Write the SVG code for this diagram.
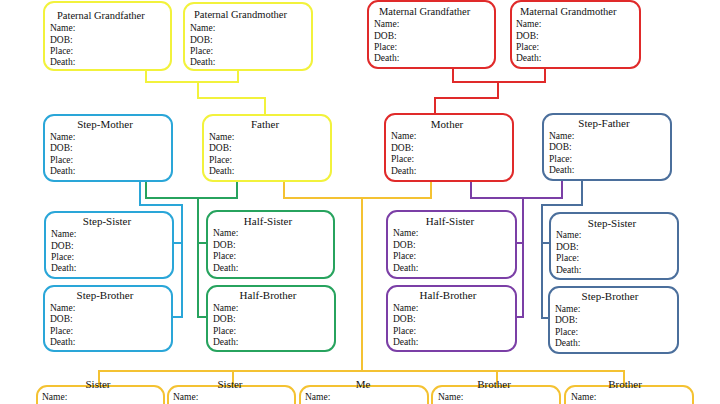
<svg xmlns="http://www.w3.org/2000/svg" width="720" height="404" viewBox="0 0 720 404">
<style>
rect{fill:#fff;stroke-width:2}
text{font-family:"Liberation Serif",serif;font-size:9.5px;fill:#111}
.t{font-size:11px;text-anchor:middle}
.c path{fill:none;stroke-width:2}
.y{stroke:#f2f23c}.r{stroke:#e02a2a}.b{stroke:#2aa6d8}.g{stroke:#27a35e}.p{stroke:#7b3fa6}.s{stroke:#4b6f9c}.o{stroke:#f4c232}
</style>
<rect width="720" height="404" fill="#fff" stroke="none"/>
<g class="c">
<path class="y" d="M146 70V82H238V70M198 82V98H265V115"/>
<path class="r" d="M453 68V82H545V68M498 82V98H435V113"/>
<path class="b" d="M140 181V205H182V317H172M182 243H172"/>
<path class="g" d="M146 181V198H237V181M198 198V317H207M198 243H207"/>
<path class="o" d="M284 181V198H431V181M362 198V371M99 386V371H624V386M233 371V386M497 371V386"/>
<path class="p" d="M471 181V198H562V180M523 198V317H516M523 243H516"/>
<path class="s" d="M582 180V205H542V318H549M542 243H550"/>
</g>
<g id="pgf"><rect class="y" x="44" y="2" width="127" height="68" rx="10"/><text x="57" y="19" style="font-size:10.5px">Paternal Grandfather</text><text x="50" y="31">Name:</text><text x="50" y="43">DOB:</text><text x="50" y="54">Place:</text><text x="50" y="65">Death:</text></g>
<g id="pgm"><rect class="y" x="184" y="3" width="128" height="67" rx="10"/><text x="194" y="18" style="font-size:10.5px">Paternal Grandmother</text><text x="190" y="31">Name:</text><text x="190" y="43">DOB:</text><text x="190" y="54">Place:</text><text x="190" y="65">Death:</text></g>
<g id="mgf"><rect class="r" x="368" y="1" width="127" height="67" rx="10"/><text x="379" y="15" style="font-size:10.5px">Maternal Grandfather</text><text x="374" y="27">Name:</text><text x="374" y="39">DOB:</text><text x="374" y="50">Place:</text><text x="374" y="61">Death:</text></g>
<g id="mgm"><rect class="r" x="511" y="1" width="129" height="67" rx="10"/><text x="520" y="15" style="font-size:10.5px">Maternal Grandmother</text><text x="516" y="27">Name:</text><text x="516" y="39">DOB:</text><text x="516" y="50">Place:</text><text x="516" y="61">Death:</text></g>
<g id="stepmother"><rect class="b" x="44" y="115" width="128" height="66" rx="10"/><text class="t" x="105" y="128">Step-Mother</text><text x="50" y="140">Name:</text><text x="50" y="151">DOB:</text><text x="50" y="163">Place:</text><text x="50" y="174">Death:</text></g>
<g id="father"><rect class="y" x="203" y="115" width="128" height="66" rx="10"/><text class="t" x="265" y="128">Father</text><text x="209" y="140">Name:</text><text x="209" y="151">DOB:</text><text x="209" y="163">Place:</text><text x="209" y="174">Death:</text></g>
<g id="mother"><rect class="r" x="385" y="114" width="128" height="67" rx="10"/><text class="t" x="447" y="128">Mother</text><text x="391" y="139">Name:</text><text x="391" y="151">DOB:</text><text x="391" y="162">Place:</text><text x="391" y="174">Death:</text></g>
<g id="stepfather"><rect class="s" x="543" y="114" width="128" height="66" rx="10"/><text class="t" x="604" y="127">Step-Father</text><text x="549" y="139">Name:</text><text x="549" y="150">DOB:</text><text x="549" y="162">Place:</text><text x="549" y="173">Death:</text></g>
<g id="stepsister1"><rect class="b" x="45" y="212" width="128" height="66" rx="10"/><text class="t" x="107" y="225">Step-Sister</text><text x="51" y="237">Name:</text><text x="51" y="249">DOB:</text><text x="51" y="260">Place:</text><text x="51" y="271">Death:</text></g>
<g id="stepbrother1"><rect class="b" x="44" y="286" width="128" height="65" rx="10"/><text class="t" x="105" y="299">Step-Brother</text><text x="50" y="311">Name:</text><text x="50" y="322">DOB:</text><text x="50" y="334">Place:</text><text x="50" y="345">Death:</text></g>
<g id="halfsister1"><rect class="g" x="207" y="211" width="127" height="67" rx="10"/><text class="t" x="268" y="225">Half-Sister</text><text x="213" y="236">Name:</text><text x="213" y="248">DOB:</text><text x="213" y="259">Place:</text><text x="213" y="271">Death:</text></g>
<g id="halfbrother1"><rect class="g" x="207" y="286" width="128" height="65" rx="10"/><text class="t" x="268" y="299">Half-Brother</text><text x="213" y="311">Name:</text><text x="213" y="322">DOB:</text><text x="213" y="334">Place:</text><text x="213" y="345">Death:</text></g>
<g id="halfsister2"><rect class="p" x="387" y="211" width="129" height="67" rx="10"/><text class="t" x="450" y="225">Half-Sister</text><text x="393" y="236">Name:</text><text x="393" y="248">DOB:</text><text x="393" y="259">Place:</text><text x="393" y="271">Death:</text></g>
<g id="halfbrother2"><rect class="p" x="387" y="286" width="129" height="65" rx="10"/><text class="t" x="448" y="299">Half-Brother</text><text x="393" y="311">Name:</text><text x="393" y="322">DOB:</text><text x="393" y="334">Place:</text><text x="393" y="345">Death:</text></g>
<g id="stepsister2"><rect class="s" x="550" y="213" width="128" height="66" rx="10"/><text class="t" x="612" y="227">Step-Sister</text><text x="556" y="238">Name:</text><text x="556" y="250">DOB:</text><text x="556" y="261">Place:</text><text x="556" y="273">Death:</text></g>
<g id="stepbrother2"><rect class="s" x="549" y="287" width="129" height="66" rx="10"/><text class="t" x="610" y="300">Step-Brother</text><text x="555" y="312">Name:</text><text x="555" y="323">DOB:</text><text x="555" y="335">Place:</text><text x="555" y="346">Death:</text></g>
<g id="sister1"><rect class="o" x="37" y="386" width="127" height="40" rx="10"/><text class="t" x="98" y="388">Sister</text><text x="42" y="400">Name:</text></g>
<g id="sister2"><rect class="o" x="168" y="386" width="127" height="40" rx="10"/><text class="t" x="230" y="388">Sister</text><text x="173" y="400">Name:</text></g>
<g id="me"><rect class="o" x="300" y="386" width="128" height="40" rx="10"/><text class="t" x="363" y="388">Me</text><text x="305" y="400">Name:</text></g>
<g id="brother1"><rect class="o" x="432" y="386" width="128" height="40" rx="10"/><text class="t" x="494" y="388">Brother</text><text x="438" y="400">Name:</text></g>
<g id="brother2"><rect class="o" x="565" y="386" width="128" height="40" rx="10"/><text class="t" x="625" y="388">Brother</text><text x="571" y="400">Name:</text></g>
</svg>
